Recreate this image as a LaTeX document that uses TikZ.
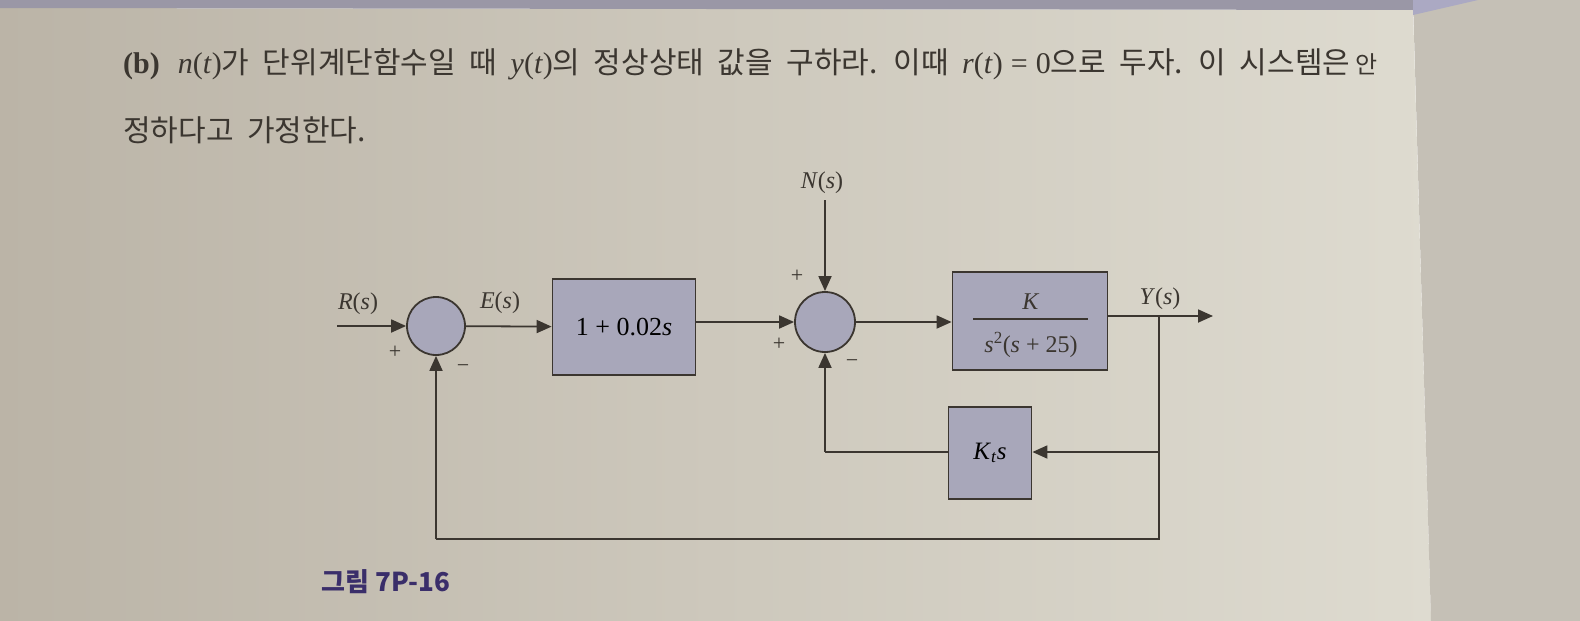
\documentclass[tikz,border=0pt]{standalone}
\usepackage{fontspec}
\setmainfont{Liberation Serif}
\newfontfamily\kr{Noto Sans CJK KR}
\usetikzlibrary{arrows.meta}
\definecolor{ink}{HTML}{3B3630}
\definecolor{boxfill}{HTML}{A8A7BA}
\definecolor{capcol}{HTML}{3A2E6A}
\definecolor{pgleft}{HTML}{BBB4A7}
\definecolor{pgmid}{HTML}{CDC8BC}
\definecolor{pgright}{HTML}{DEDBD0}
\definecolor{pgnext}{HTML}{C5C0B6}
\definecolor{topstrip}{HTML}{9A97A6}
\definecolor{toppatch}{HTML}{ABA9C3}
\newcommand\widesp{\spaceskip=13.5pt plus 1pt\relax}
\tikzset{
  blk/.style={draw=ink, line width=1.8pt, fill=boxfill, minimum width=#1, inner sep=0pt},
  sumnode/.style={circle, draw=ink, line width=1.8pt, fill=boxfill, minimum size=58pt, inner sep=0pt},
  wire/.style={draw=ink, line width=1.8pt},
  arr/.style={wire, -{Triangle[length=15pt,width=13pt]}},
  lbl/.style={font=\fontsize{24}{28}\selectfont, text=ink, inner sep=0pt},
  sgn/.style={font=\fontsize{22}{24}\selectfont, text=ink, inner sep=0pt},
  txt/.style={font=\fontsize{30}{34}\selectfont, text=ink, inner sep=0pt, anchor=base west},
}
\begin{document}
\begin{tikzpicture}[x=1pt,y=-1pt]
\path[use as bounding box] (0,0) rectangle (1580,621);
% background
\shade[left color=pgleft, right color=pgright, middle color=pgmid]
  (0,8) -- (1413,10) -- (1431,621) -- (0,621) -- cycle;
\fill[pgnext] (1413,0) -- (1580,0) -- (1580,621) -- (1431,621) -- cycle;
\fill[topstrip] (0,0) -- (1413,0) -- (1413,10) -- (0,8) -- cycle;
\fill[toppatch] (1413,0) -- (1478,0) -- (1413,15) -- cycle;

% text
\node[txt] (t1) at (123,73) {\widesp\textbf{(b)}\hspace{18pt}\textit{n}(\textit{t})\kr 가 단위계단함수일 때 \rmfamily\textit{y}(\textit{t})\kr 의 정상상태 값을 구하라. 이때 \rmfamily\textit{r}(\textit{t})\hspace{8pt}=\hspace{8pt}0\kr 으로 두자. 이 시스템은\,{\fontsize{24}{26}\selectfont 안}};
\node[txt] (t2) at (123,141) {\widesp\kr 정하다고 가정한다.};

% diagram
\node[sumnode] (s1) at (436,326) {};
\node[blk=143pt, minimum height=96pt] (b1) at (624,327) {\fontsize{26}{30}\selectfont 1 + 0.02\textit{s}};
\node[sumnode, minimum size=60pt] (s2) at (825,322) {};
\node[blk=155pt, minimum height=98pt] (b2) at (1030,321) {};
\node[blk=83pt, minimum height=92pt] (b3) at (990,453) {\fontsize{25}{28}\selectfont\textit{K}\textsubscript{\textit{t}}\textit{s}};

\node[lbl] (kn) at (1031,302) {\textit{K}};
\node[lbl] (kd) at (1031,345) {\textit{s}\textsuperscript{\fontsize{17}{18}\selectfont 2}(\textit{s} + 25)};
\coordinate (fl) at (973,319);
\coordinate (fr) at (1088,319);
\draw[wire, line width=1.5pt] (fl) -- (fr);

\coordinate (rin) at (337,326);
\coordinate (nin) at (825,200);
\coordinate (yout) at (1213,316);
\coordinate (br) at (1159,316);
\coordinate (br2) at (1159,452);
\coordinate (bot) at (1159,539);
\coordinate (botl) at (436,539);
\coordinate (k2l) at (825,452);

\node[lbl] (rl) at (358,304) {\textit{R}(\textit{s})};
\node[lbl] (el) at (500,303) {\textit{E}(\textit{s})};
\node[lbl] (nl) at (822,183) {\textit{N}(\textit{s})};
\node[lbl] (yl) at (1160,299) {\textit{Y}(\textit{s})};

\node[sgn] (p1) at (395,352) {+};
\node[sgn] (m1) at (463,369) {\textminus};
\node[sgn] (p2) at (797,276) {+};
\node[sgn] (p3) at (779,344) {+};
\node[sgn] (m2) at (852,364) {\textminus};

\draw[arr] (rin) -- (s1);
\draw[arr] (s1) -- (b1);
\draw[arr] (b1.east |- s2) -- (s2);
\draw[arr] (nin) -- (s2);
\draw[arr] (s2) -- (b2.west |- s2);
\draw[arr] (b2.east |- yout) -- (yout);
\draw[wire] (br) -- (bot) -- (botl);
\draw[arr] (botl) -- (s1.south);
\draw[arr] (br2) -- (b3.east |- br2);
\draw[wire] (b3.west |- k2l) -- (k2l);
\draw[arr] (k2l) -- (s2.south);

\node[font=\kr\bfseries\fontsize{26}{30}\selectfont, text=capcol, inner sep=0pt] (cap) at (386,582) {그림 7P-16};
\end{tikzpicture}
\end{document}
